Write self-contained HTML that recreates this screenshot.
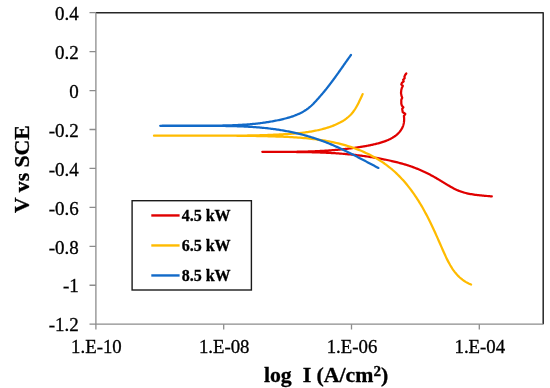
<!DOCTYPE html>
<html><head><meta charset="utf-8"><style>
html,body{margin:0;padding:0;background:#fff;width:550px;height:388px;overflow:hidden}
svg{display:block}
.tl{font-family:"Liberation Serif",serif;font-size:18px;fill:#000;stroke:#000;stroke-width:0.3px}
.lg{font-family:"Liberation Serif",serif;font-size:16px;font-weight:bold;fill:#000;stroke:#000;stroke-width:0.3px}
.ti{font-family:"Liberation Serif",serif;font-size:21px;font-weight:bold;fill:#000;stroke:#000;stroke-width:0.3px}
</style></head><body>
<svg width="550" height="388" viewBox="0 0 550 388">
<rect width="550" height="388" fill="#fff"/>
<path d="M95.9,12.7 H543.2 V324.2" fill="none" stroke="#262626" stroke-width="1.5" stroke-linejoin="round"/>
<path d="M95.9,12.7 V324.2 H543.2" fill="none" stroke="#8c8c8c" stroke-width="1.3"/>
<path d="M89.5,12.70 H95.9 M89.5,51.64 H95.9 M89.5,90.58 H95.9 M89.5,129.51 H95.9 M89.5,168.45 H95.9 M89.5,207.39 H95.9 M89.5,246.33 H95.9 M89.5,285.26 H95.9 M89.5,324.20 H95.9 M95.90,324.2 V329.5 M223.70,324.2 V329.5 M351.50,324.2 V329.5 M479.30,324.2 V329.5" fill="none" stroke="#8c8c8c" stroke-width="1.3"/>
<g class="tl">
<text transform="translate(78.75,19.90) scale(1.055,1)" text-anchor="end">0.4</text>
<text transform="translate(78.75,58.84) scale(1.055,1)" text-anchor="end">0.2</text>
<text transform="translate(78.75,97.78) scale(1.055,1)" text-anchor="end">0</text>
<text transform="translate(78.75,136.71) scale(1.055,1)" text-anchor="end">-0.2</text>
<text transform="translate(78.75,175.65) scale(1.055,1)" text-anchor="end">-0.4</text>
<text transform="translate(78.75,214.59) scale(1.055,1)" text-anchor="end">-0.6</text>
<text transform="translate(78.75,253.53) scale(1.055,1)" text-anchor="end">-0.8</text>
<text transform="translate(78.75,292.46) scale(1.055,1)" text-anchor="end">-1</text>
<text transform="translate(78.75,331.40) scale(1.055,1)" text-anchor="end">-1.2</text>
<text transform="translate(96.40,353) scale(1.045,1)" text-anchor="middle">1.E-10</text>
<text transform="translate(224.20,353) scale(1.045,1)" text-anchor="middle">1.E-08</text>
<text transform="translate(352.00,353) scale(1.045,1)" text-anchor="middle">1.E-06</text>
<text transform="translate(479.80,353) scale(1.045,1)" text-anchor="middle">1.E-04</text>
</g>
<path d="M491.80,196.46 L490.64,196.34 L489.46,196.22 L488.28,196.11 L487.10,196.00 L485.92,195.89 L484.73,195.78 L483.53,195.67 L482.34,195.56 L481.15,195.45 L479.95,195.32 L478.76,195.20 L477.56,195.06 L476.37,194.92 L475.17,194.76 L473.99,194.60 L472.80,194.42 L471.62,194.23 L470.44,194.02 L469.26,193.80 L468.10,193.56 L466.93,193.30 L465.78,193.02 L464.63,192.72 L463.49,192.40 L462.36,192.05 L461.24,191.68 L460.12,191.28 L459.02,190.86 L457.93,190.41 L456.85,189.93 L455.77,189.43 L454.70,188.91 L453.65,188.38 L452.59,187.82 L451.55,187.25 L450.51,186.67 L449.47,186.07 L448.44,185.47 L447.41,184.85 L446.38,184.24 L445.36,183.61 L444.34,182.99 L443.32,182.36 L442.30,181.74 L441.27,181.12 L440.25,180.50 L439.23,179.88 L438.20,179.27 L437.17,178.67 L436.14,178.06 L435.11,177.47 L434.07,176.88 L433.03,176.30 L431.98,175.73 L430.93,175.16 L429.87,174.61 L428.81,174.06 L427.75,173.52 L426.68,172.99 L425.61,172.47 L424.53,171.95 L423.45,171.45 L422.37,170.95 L421.28,170.47 L420.18,169.99 L419.09,169.53 L417.99,169.07 L416.88,168.62 L415.77,168.18 L414.66,167.76 L413.55,167.34 L412.43,166.93 L411.30,166.54 L410.18,166.15 L409.05,165.77 L407.91,165.40 L406.78,165.04 L405.64,164.69 L404.49,164.34 L403.35,164.01 L402.20,163.68 L401.05,163.36 L399.90,163.05 L398.75,162.74 L397.59,162.44 L396.43,162.15 L395.27,161.86 L394.11,161.58 L392.95,161.31 L391.79,161.04 L390.62,160.77 L389.46,160.51 L388.29,160.26 L387.12,160.01 L385.95,159.77 L384.78,159.53 L383.61,159.29 L382.44,159.06 L381.27,158.84 L380.10,158.62 L378.92,158.40 L377.75,158.19 L376.57,157.98 L375.40,157.78 L374.22,157.58 L373.04,157.39 L371.86,157.20 L370.69,157.02 L369.51,156.83 L368.33,156.66 L367.15,156.49 L365.96,156.32 L364.78,156.15 L363.60,155.99 L362.42,155.84 L361.23,155.68 L360.05,155.54 L358.86,155.39 L357.68,155.25 L356.49,155.11 L355.31,154.98 L354.12,154.85 L352.93,154.72 L351.75,154.60 L350.56,154.48 L349.37,154.37 L348.18,154.26 L346.99,154.15 L345.80,154.04 L344.61,153.94 L343.43,153.84 L342.24,153.75 L341.04,153.65 L339.85,153.56 L338.66,153.48 L337.47,153.40 L336.28,153.32 L335.09,153.24 L333.90,153.17 L332.71,153.09 L331.52,153.03 L330.32,152.96 L329.13,152.90 L327.94,152.84 L326.75,152.78 L325.56,152.73 L324.36,152.67 L323.17,152.62 L321.98,152.58 L320.79,152.53 L319.59,152.49 L318.40,152.45 L317.21,152.41 L316.02,152.37 L314.82,152.34 L313.63,152.31 L312.44,152.27 L311.24,152.25 L310.05,152.22 L308.86,152.19 L307.66,152.17 L306.47,152.15 L305.28,152.12 L304.08,152.10 L302.89,152.09 L301.70,152.07 L300.50,152.05 L299.31,152.04 L298.12,152.02 L296.92,152.01 L295.73,152.00 L294.53,151.99 L293.34,151.98 L292.15,151.97 L290.95,151.96 L289.76,151.95 L288.56,151.94 L287.37,151.94 L286.18,151.93 L284.98,151.92 L283.79,151.92 L282.60,151.91 L281.40,151.91 L280.21,151.90 L279.01,151.90 L277.82,151.89 L276.63,151.89 L275.43,151.88 L274.24,151.88 L273.04,151.87 L271.85,151.87 L270.66,151.86 L269.46,151.85 L268.27,151.85 L267.07,151.84 L265.88,151.83 L264.69,151.82 L263.49,151.81 L262.30,151.80 L263.09,151.80 L263.89,151.80 L264.68,151.80 L265.47,151.80 L266.27,151.80 L267.06,151.80 L267.85,151.80 L268.65,151.80 L269.44,151.80 L270.23,151.80 L271.03,151.80 L271.82,151.79 L272.61,151.79 L273.41,151.79 L274.20,151.78 L274.99,151.79 L275.79,151.80 L276.58,151.80 L277.38,151.81 L278.17,151.81 L278.96,151.82 L279.76,151.82 L280.55,151.82 L281.35,151.82 L282.14,151.83 L282.94,151.83 L283.73,151.83 L284.52,151.83 L285.32,151.83 L286.11,151.83 L286.91,151.83 L287.70,151.82 L288.50,151.82 L289.29,151.82 L290.08,151.81 L290.88,151.81 L291.67,151.80 L292.47,151.79 L293.26,151.79 L294.05,151.78 L294.85,151.77 L295.64,151.76 L296.44,151.75 L297.23,151.74 L298.02,151.73 L298.82,151.71 L299.61,151.70 L300.41,151.68 L301.20,151.67 L301.99,151.65 L302.79,151.63 L303.58,151.62 L304.37,151.60 L305.17,151.58 L305.96,151.56 L306.75,151.53 L307.55,151.51 L308.34,151.49 L309.13,151.46 L309.93,151.43 L310.72,151.41 L311.51,151.38 L312.30,151.35 L313.10,151.32 L313.89,151.29 L314.68,151.25 L315.47,151.22 L316.27,151.19 L317.06,151.15 L317.85,151.11 L318.64,151.07 L319.44,151.03 L320.23,150.99 L321.02,150.95 L321.81,150.91 L322.60,150.86 L323.39,150.82 L324.18,150.77 L324.97,150.72 L325.77,150.67 L326.56,150.62 L327.35,150.57 L328.14,150.51 L328.93,150.46 L329.72,150.40 L330.51,150.34 L331.30,150.28 L332.09,150.22 L332.88,150.16 L333.67,150.10 L334.46,150.03 L335.25,149.97 L336.04,149.90 L336.82,149.83 L337.61,149.76 L338.40,149.68 L339.19,149.61 L339.98,149.53 L340.77,149.46 L341.55,149.38 L342.34,149.30 L343.13,149.22 L343.92,149.13 L344.70,149.05 L345.49,148.96 L346.28,148.87 L347.06,148.78 L347.85,148.69 L348.64,148.59 L349.42,148.50 L350.21,148.40 L350.99,148.30 L351.78,148.20 L352.57,148.10 L353.35,148.00 L354.13,147.89 L354.92,147.78 L355.70,147.67 L356.49,147.56 L357.27,147.45 L358.06,147.33 L358.84,147.21 L359.62,147.09 L360.41,146.97 L361.19,146.85 L361.97,146.72 L362.75,146.59 L363.54,146.46 L364.32,146.33 L365.10,146.19 L365.88,146.05 L366.66,145.90 L367.44,145.76 L368.23,145.61 L369.01,145.45 L369.79,145.30 L370.57,145.13 L371.35,144.97 L372.13,144.80 L372.91,144.63 L373.69,144.45 L374.47,144.27 L375.25,144.08 L376.03,143.89 L376.81,143.70 L377.59,143.50 L378.37,143.29 L379.15,143.08 L379.92,142.86 L380.70,142.64 L381.47,142.41 L382.24,142.17 L383.00,141.92 L383.76,141.66 L384.52,141.40 L385.28,141.12 L386.02,140.84 L386.77,140.54 L387.50,140.23 L388.24,139.91 L388.96,139.58 L389.68,139.24 L390.39,138.88 L391.09,138.52 L391.78,138.13 L392.47,137.74 L393.14,137.33 L393.79,136.91 L394.44,136.48 L395.07,136.03 L395.69,135.57 L396.30,135.09 L396.88,134.60 L397.45,134.09 L398.01,133.57 L398.54,133.03 L399.06,132.48 L399.55,131.91 L400.03,131.32 L400.48,130.72 L400.91,130.10 L401.32,129.47 L401.70,128.82 L402.06,128.15 L402.39,127.46 L402.70,126.76 L402.98,126.04 L403.23,125.30 L403.45,124.55 L403.65,123.77 L403.81,122.98 L403.94,122.16 L404.04,121.33 L404.10,120.48 L404.13,119.61 L404.13,118.72 L404.09,117.81 L404.02,116.88 L403.91,115.93 L405.30,114.00 L402.70,112.00 L402.20,108.80 L403.40,107.30 L401.90,105.80 L401.30,103.60 L401.30,99.90 L402.20,97.70 L401.60,96.20 L401.00,93.10 L401.30,90.00 L401.90,87.80 L402.80,85.90 L401.30,84.40 L401.90,82.80 L403.70,81.30 L403.10,79.70 L404.70,78.20 L404.40,76.70 L405.30,74.80 L406.30,73.50" fill="none" stroke="#e00000" stroke-width="2.25" stroke-linejoin="round" stroke-linecap="round"/>
<path d="M471.06,284.53 L469.15,283.72 L467.34,282.83 L465.62,281.86 L463.97,280.81 L462.41,279.68 L460.92,278.49 L459.50,277.23 L458.15,275.91 L456.86,274.54 L455.63,273.10 L454.46,271.62 L453.34,270.09 L452.26,268.52 L451.24,266.90 L450.25,265.25 L449.30,263.57 L448.38,261.86 L447.49,260.13 L446.63,258.38 L445.79,256.61 L444.96,254.82 L444.15,253.03 L443.35,251.23 L442.56,249.43 L441.77,247.63 L440.98,245.83 L440.19,244.03 L439.40,242.24 L438.61,240.45 L437.82,238.66 L437.02,236.88 L436.22,235.10 L435.42,233.32 L434.61,231.55 L433.80,229.78 L432.98,228.02 L432.16,226.26 L431.32,224.51 L430.48,222.76 L429.63,221.02 L428.76,219.28 L427.89,217.55 L427.00,215.83 L426.10,214.11 L425.19,212.41 L424.27,210.70 L423.32,209.01 L422.37,207.32 L421.39,205.64 L420.40,203.97 L419.39,202.31 L418.37,200.66 L417.32,199.02 L416.25,197.38 L415.17,195.76 L414.06,194.15 L412.94,192.56 L411.79,190.97 L410.63,189.41 L409.44,187.85 L408.24,186.32 L407.01,184.80 L405.77,183.30 L404.50,181.82 L403.21,180.36 L401.90,178.92 L400.56,177.50 L399.21,176.10 L397.83,174.73 L396.44,173.38 L395.01,172.05 L393.57,170.76 L392.10,169.48 L390.61,168.24 L389.10,167.02 L387.57,165.83 L386.01,164.68 L384.43,163.54 L382.83,162.44 L381.21,161.37 L379.57,160.32 L377.92,159.30 L376.24,158.31 L374.55,157.34 L372.84,156.40 L371.12,155.49 L369.39,154.61 L367.64,153.75 L365.87,152.92 L364.10,152.11 L362.31,151.33 L360.51,150.57 L358.71,149.84 L356.89,149.14 L355.07,148.46 L353.23,147.81 L351.40,147.18 L349.55,146.57 L347.70,145.99 L345.85,145.43 L343.98,144.90 L342.12,144.39 L340.24,143.89 L338.37,143.43 L336.48,142.98 L334.60,142.55 L332.70,142.14 L330.81,141.75 L328.91,141.38 L327.00,141.03 L325.09,140.69 L323.18,140.37 L321.26,140.07 L319.34,139.79 L317.42,139.52 L315.49,139.26 L313.56,139.02 L311.63,138.79 L309.70,138.58 L307.76,138.38 L305.82,138.19 L303.88,138.02 L301.94,137.85 L299.99,137.70 L298.04,137.56 L296.09,137.42 L294.14,137.30 L292.19,137.19 L290.24,137.08 L288.29,136.98 L286.34,136.89 L284.38,136.80 L282.43,136.72 L280.47,136.65 L278.52,136.58 L276.57,136.52 L274.61,136.46 L272.66,136.40 L270.71,136.35 L268.76,136.30 L266.80,136.25 L264.85,136.20 L262.91,136.16 L260.96,136.12 L259.01,136.08 L257.06,136.04 L255.12,136.00 L253.17,135.97 L251.23,135.94 L249.28,135.91 L247.34,135.88 L245.40,135.85 L243.45,135.83 L241.51,135.80 L239.57,135.78 L237.63,135.76 L235.68,135.74 L233.74,135.73 L231.80,135.71 L229.86,135.70 L227.92,135.68 L225.98,135.67 L224.04,135.66 L222.10,135.65 L220.16,135.65 L218.22,135.64 L216.28,135.63 L214.34,135.63 L212.40,135.63 L210.46,135.62 L208.52,135.62 L206.58,135.62 L204.63,135.62 L202.69,135.62 L200.75,135.62 L198.81,135.63 L196.86,135.63 L194.92,135.63 L192.98,135.64 L191.03,135.64 L189.09,135.64 L187.14,135.65 L185.19,135.65 L183.25,135.66 L181.30,135.66 L179.36,135.67 L177.41,135.67 L175.47,135.67 L173.52,135.68 L171.57,135.68 L169.63,135.68 L167.68,135.68 L165.73,135.69 L163.77,135.69 L161.82,135.69 L159.87,135.69 L157.91,135.70 L155.96,135.70 L154.00,135.70 L155.13,135.69 L156.26,135.67 L157.40,135.66 L158.53,135.65 L159.66,135.64 L160.79,135.64 L161.92,135.63 L163.05,135.62 L164.18,135.62 L165.32,135.61 L166.45,135.61 L167.58,135.61 L168.71,135.60 L169.84,135.60 L170.97,135.60 L172.10,135.60 L173.23,135.59 L174.36,135.59 L175.49,135.58 L176.63,135.58 L177.76,135.58 L178.89,135.58 L180.02,135.58 L181.15,135.57 L182.28,135.57 L183.41,135.57 L184.55,135.57 L185.68,135.58 L186.81,135.58 L187.94,135.58 L189.07,135.58 L190.20,135.58 L191.33,135.59 L192.46,135.59 L193.59,135.59 L194.72,135.60 L195.85,135.60 L196.98,135.60 L198.11,135.61 L199.24,135.61 L200.37,135.61 L201.50,135.62 L202.63,135.62 L203.75,135.63 L204.88,135.63 L206.01,135.63 L207.14,135.64 L208.27,135.64 L209.40,135.64 L210.53,135.65 L211.66,135.65 L212.79,135.65 L213.92,135.66 L215.04,135.66 L216.17,135.66 L217.30,135.66 L218.43,135.66 L219.56,135.66 L220.69,135.66 L221.82,135.66 L222.95,135.66 L224.07,135.66 L225.20,135.66 L226.33,135.66 L227.46,135.66 L228.59,135.65 L229.72,135.65 L230.85,135.65 L231.97,135.64 L233.10,135.63 L234.23,135.63 L235.36,135.62 L236.49,135.61 L237.62,135.60 L238.75,135.59 L239.87,135.58 L241.00,135.57 L242.13,135.56 L243.26,135.55 L244.39,135.53 L245.52,135.52 L246.65,135.50 L247.78,135.48 L248.90,135.46 L250.03,135.45 L251.16,135.42 L252.29,135.40 L253.42,135.38 L254.55,135.36 L255.68,135.33 L256.81,135.30 L257.94,135.28 L259.07,135.25 L260.20,135.22 L261.33,135.18 L262.46,135.15 L263.59,135.12 L264.72,135.08 L265.85,135.04 L266.98,135.00 L268.11,134.96 L269.24,134.92 L270.37,134.88 L271.50,134.83 L272.63,134.79 L273.76,134.74 L274.89,134.69 L276.03,134.64 L277.16,134.58 L278.29,134.53 L279.42,134.47 L280.55,134.41 L281.68,134.35 L282.82,134.29 L283.95,134.22 L285.08,134.16 L286.21,134.09 L287.34,134.02 L288.48,133.94 L289.61,133.87 L290.74,133.79 L291.87,133.71 L293.01,133.62 L294.14,133.53 L295.27,133.44 L296.40,133.34 L297.53,133.24 L298.65,133.13 L299.78,133.02 L300.91,132.90 L302.03,132.77 L303.16,132.64 L304.28,132.51 L305.40,132.36 L306.52,132.21 L307.64,132.05 L308.76,131.89 L309.88,131.72 L310.99,131.54 L312.10,131.35 L313.21,131.15 L314.32,130.94 L315.43,130.73 L316.53,130.50 L317.64,130.27 L318.74,130.03 L319.83,129.77 L320.93,129.51 L322.02,129.23 L323.11,128.95 L324.20,128.65 L325.28,128.34 L326.36,128.02 L327.44,127.68 L328.51,127.34 L329.59,126.98 L330.65,126.61 L331.72,126.23 L332.78,125.83 L333.83,125.41 L334.88,124.98 L335.92,124.54 L336.95,124.08 L337.97,123.60 L338.98,123.10 L339.98,122.59 L340.96,122.05 L341.93,121.50 L342.89,120.93 L343.83,120.33 L344.75,119.71 L345.66,119.07 L346.55,118.41 L347.42,117.72 L348.27,117.01 L349.09,116.28 L349.90,115.51 L350.68,114.73 L351.44,113.91 L352.17,113.07 L352.87,112.20 L353.55,111.30 L354.21,110.38 L354.85,109.44 L355.46,108.48 L356.05,107.50 L356.63,106.50 L357.19,105.50 L357.74,104.48 L358.27,103.45 L358.78,102.41 L359.29,101.37 L359.79,100.33 L360.28,99.28 L360.76,98.24 L361.23,97.20 L361.70,96.17 L362.17,95.14 L362.64,94.13" fill="none" stroke="#ffbb00" stroke-width="2.25" stroke-linejoin="round" stroke-linecap="round"/>
<path d="M378.41,167.94 L377.41,167.42 L376.41,166.90 L375.41,166.38 L374.40,165.85 L373.40,165.32 L372.40,164.80 L371.40,164.27 L370.39,163.74 L369.39,163.21 L368.39,162.68 L367.38,162.15 L366.38,161.62 L365.37,161.09 L364.37,160.56 L363.36,160.03 L362.35,159.50 L361.34,158.98 L360.33,158.45 L359.33,157.92 L358.31,157.40 L357.30,156.87 L356.29,156.35 L355.28,155.83 L354.26,155.31 L353.25,154.79 L352.23,154.27 L351.22,153.76 L350.20,153.25 L349.18,152.74 L348.16,152.23 L347.13,151.73 L346.11,151.23 L345.09,150.73 L344.06,150.23 L343.03,149.74 L342.00,149.25 L340.97,148.77 L339.94,148.29 L338.91,147.81 L337.87,147.34 L336.83,146.87 L335.80,146.41 L334.76,145.95 L333.71,145.49 L332.67,145.04 L331.62,144.60 L330.58,144.16 L329.53,143.72 L328.47,143.30 L327.42,142.87 L326.36,142.45 L325.31,142.04 L324.25,141.64 L323.19,141.24 L322.12,140.84 L321.06,140.45 L319.99,140.07 L318.92,139.70 L317.85,139.33 L316.77,138.96 L315.70,138.60 L314.62,138.25 L313.54,137.90 L312.46,137.56 L311.38,137.22 L310.29,136.89 L309.21,136.57 L308.12,136.25 L307.03,135.94 L305.94,135.63 L304.85,135.33 L303.75,135.03 L302.66,134.74 L301.56,134.45 L300.46,134.17 L299.36,133.90 L298.26,133.63 L297.16,133.37 L296.06,133.11 L294.95,132.86 L293.84,132.61 L292.74,132.37 L291.63,132.13 L290.52,131.90 L289.41,131.68 L288.30,131.46 L287.18,131.24 L286.07,131.03 L284.96,130.83 L283.84,130.63 L282.72,130.43 L281.61,130.24 L280.49,130.06 L279.37,129.88 L278.25,129.71 L277.13,129.54 L276.01,129.38 L274.88,129.22 L273.76,129.07 L272.64,128.92 L271.51,128.77 L270.39,128.63 L269.26,128.50 L268.14,128.37 L267.01,128.24 L265.88,128.12 L264.75,128.00 L263.62,127.89 L262.49,127.78 L261.36,127.68 L260.23,127.58 L259.10,127.48 L257.97,127.39 L256.84,127.30 L255.70,127.21 L254.57,127.13 L253.44,127.05 L252.30,126.97 L251.17,126.90 L250.03,126.83 L248.90,126.77 L247.76,126.70 L246.63,126.64 L245.49,126.59 L244.35,126.53 L243.21,126.48 L242.08,126.44 L240.94,126.39 L239.80,126.35 L238.66,126.31 L237.52,126.27 L236.38,126.24 L235.24,126.20 L234.11,126.17 L232.97,126.14 L231.83,126.12 L230.69,126.09 L229.55,126.07 L228.41,126.05 L227.27,126.03 L226.12,126.02 L224.98,126.00 L223.84,125.99 L222.70,125.98 L221.56,125.97 L220.42,125.96 L219.28,125.95 L218.14,125.94 L217.00,125.94 L215.86,125.93 L214.72,125.93 L213.58,125.93 L212.44,125.93 L211.30,125.93 L210.15,125.93 L209.01,125.93 L207.87,125.93 L206.73,125.93 L205.59,125.93 L204.46,125.94 L203.32,125.94 L202.18,125.94 L201.04,125.95 L199.90,125.95 L198.76,125.95 L197.62,125.96 L196.48,125.96 L195.35,125.96 L194.21,125.97 L193.07,125.97 L191.94,125.97 L190.80,125.97 L189.66,125.97 L188.53,125.97 L187.39,125.97 L186.26,125.97 L185.12,125.97 L183.99,125.97 L182.86,125.96 L181.72,125.96 L180.59,125.95 L179.46,125.94 L178.33,125.93 L177.20,125.92 L176.06,125.93 L174.92,125.93 L173.79,125.93 L172.65,125.93 L171.52,125.93 L170.38,125.93 L169.25,125.92 L168.11,125.91 L166.98,125.90 L165.85,125.89 L164.72,125.88 L163.59,125.86 L162.46,125.84 L161.33,125.82 L160.20,125.80 L161.29,125.77 L162.39,125.74 L163.49,125.72 L164.58,125.70 L165.68,125.68 L166.78,125.66 L167.88,125.65 L168.98,125.63 L170.08,125.62 L171.18,125.62 L172.28,125.61 L173.38,125.61 L174.49,125.61 L175.59,125.61 L176.69,125.61 L177.79,125.60 L178.89,125.59 L179.99,125.58 L181.09,125.57 L182.19,125.57 L183.29,125.56 L184.39,125.56 L185.49,125.55 L186.60,125.55 L187.70,125.55 L188.80,125.55 L189.90,125.55 L191.01,125.55 L192.11,125.55 L193.21,125.55 L194.32,125.56 L195.42,125.56 L196.53,125.56 L197.63,125.57 L198.74,125.57 L199.84,125.57 L200.95,125.58 L202.05,125.58 L203.16,125.58 L204.27,125.58 L205.37,125.59 L206.48,125.59 L207.58,125.59 L208.69,125.59 L209.80,125.59 L210.90,125.59 L212.01,125.58 L213.12,125.58 L214.22,125.57 L215.33,125.57 L216.43,125.56 L217.54,125.55 L218.65,125.54 L219.75,125.53 L220.86,125.51 L221.96,125.50 L223.07,125.48 L224.17,125.46 L225.28,125.44 L226.38,125.41 L227.49,125.39 L228.59,125.36 L229.70,125.33 L230.80,125.30 L231.91,125.26 L233.01,125.22 L234.11,125.18 L235.22,125.14 L236.32,125.09 L237.42,125.04 L238.52,124.99 L239.62,124.93 L240.73,124.87 L241.83,124.81 L242.93,124.74 L244.03,124.67 L245.13,124.60 L246.23,124.52 L247.32,124.44 L248.42,124.35 L249.52,124.26 L250.62,124.17 L251.71,124.07 L252.81,123.97 L253.90,123.87 L255.00,123.76 L256.09,123.64 L257.19,123.52 L258.28,123.40 L259.37,123.27 L260.46,123.13 L261.55,123.00 L262.64,122.85 L263.73,122.70 L264.82,122.55 L265.91,122.39 L266.99,122.22 L268.08,122.05 L269.17,121.88 L270.25,121.70 L271.33,121.51 L272.42,121.32 L273.50,121.12 L274.58,120.91 L275.66,120.70 L276.74,120.48 L277.82,120.26 L278.90,120.03 L279.97,119.79 L281.05,119.55 L282.12,119.30 L283.20,119.04 L284.27,118.78 L285.34,118.51 L286.40,118.23 L287.47,117.93 L288.53,117.63 L289.58,117.32 L290.63,116.99 L291.68,116.66 L292.72,116.31 L293.75,115.94 L294.78,115.56 L295.80,115.17 L296.81,114.76 L297.81,114.33 L298.81,113.89 L299.79,113.43 L300.77,112.95 L301.74,112.45 L302.69,111.93 L303.64,111.39 L304.57,110.83 L305.49,110.25 L306.40,109.65 L307.29,109.02 L308.18,108.37 L309.04,107.69 L309.90,106.99 L310.74,106.26 L311.56,105.51 L312.37,104.73 L313.17,103.94 L313.95,103.13 L314.73,102.30 L315.49,101.47 L316.25,100.64 L317.01,99.81 L317.76,98.97 L318.50,98.14 L319.24,97.30 L319.98,96.47 L320.71,95.63 L321.43,94.79 L322.15,93.96 L322.87,93.11 L323.58,92.27 L324.28,91.43 L324.98,90.58 L325.68,89.72 L326.37,88.87 L327.05,88.01 L327.73,87.15 L328.41,86.28 L329.08,85.42 L329.75,84.54 L330.42,83.67 L331.08,82.80 L331.74,81.92 L332.39,81.04 L333.04,80.15 L333.69,79.27 L334.34,78.38 L334.99,77.49 L335.63,76.60 L336.27,75.71 L336.91,74.82 L337.55,73.92 L338.18,73.03 L338.82,72.13 L339.45,71.23 L340.09,70.33 L340.72,69.43 L341.35,68.53 L341.99,67.63 L342.62,66.73 L343.25,65.82 L343.89,64.92 L344.52,64.02 L345.16,63.12 L345.79,62.21 L346.43,61.31 L347.07,60.41 L347.71,59.50 L348.35,58.60 L349.00,57.70 L349.64,56.80 L350.29,55.90 L350.95,55.00" fill="none" stroke="#126ac8" stroke-width="2.25" stroke-linejoin="round" stroke-linecap="round"/>
<rect x="132.1" y="200.7" width="119.3" height="89.3" fill="#fff" stroke="#1a1a1a" stroke-width="1.4"/>
<path d="M151.3,215.45 H179.6" stroke="#e00000" stroke-width="2.4"/>
<text x="181.7" y="220.95" class="lg">4.5 kW</text>
<path d="M151.3,245.45 H179.6" stroke="#ffbb00" stroke-width="2.4"/>
<text x="181.7" y="250.95" class="lg">6.5 kW</text>
<path d="M151.3,275.45 H179.6" stroke="#126ac8" stroke-width="2.4"/>
<text x="181.7" y="280.95" class="lg">8.5 kW</text>
<text transform="translate(263.9,382.2) scale(1.038,1)" class="ti">log&#160; I (A/cm<tspan font-size="14.5" dy="-6.5">2</tspan><tspan dy="6.5">)</tspan></text>
<text transform="translate(28.6,169.1) rotate(-90) scale(1.035,1)" text-anchor="middle" class="ti">V vs SCE</text>
</svg>
</body></html>
